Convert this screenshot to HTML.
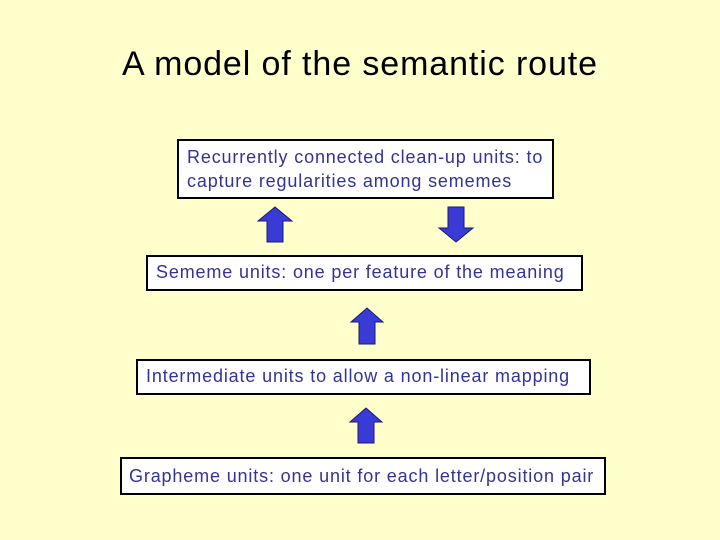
<!DOCTYPE html>
<html><head><style>
body{margin:0}
#c{position:relative;width:720px;height:540px;background:#ffffcc;font-family:"Liberation Sans",sans-serif;overflow:hidden}
.t{position:absolute;left:0;width:720px;top:45px;text-align:center;font-size:34px;letter-spacing:0.9px;color:#000}
.b{position:absolute;background:#fff;border:2px solid #000;box-sizing:border-box;color:#333399;font-size:18px;letter-spacing:0.85px;line-height:24px;padding:0 8px;white-space:nowrap}
svg{position:absolute;left:0;top:0}
</style></head><body><div id="c">
<div class="t">A model of the semantic route</div>
<div class="b" style="left:177px;top:139px;width:377px;height:60px;padding-top:4px">Recurrently connected clean-up units: to<br>capture regularities among sememes</div>
<div class="b" style="left:146px;top:255px;width:437px;height:36px;padding-top:3px">Sememe units: one per feature of the meaning</div>
<div class="b" style="left:136px;top:359px;width:455px;height:36px;padding-top:3px">Intermediate units to allow a non-linear mapping</div>
<div class="b" style="left:120px;top:457px;width:486px;height:38px;padding-top:5px;padding-left:7px">Grapheme units: one unit for each letter/position pair</div>
<svg width="720" height="540">
<g fill="#3a3ad6" stroke="#1a1a70" stroke-width="1">
<polygon points="275,207 292,221 283,221 283,242 267,242 267,221 258,221"/>
<polygon points="456,242 473,228 464,228 464,207 448,207 448,228 439,228"/>
<polygon points="367,308 383,322 375,322 375,344 359,344 359,322 351,322"/>
<polygon points="366,408 382,422 374,422 374,443 358,443 358,422 350,422"/>
</g></svg>
</div></body></html>
